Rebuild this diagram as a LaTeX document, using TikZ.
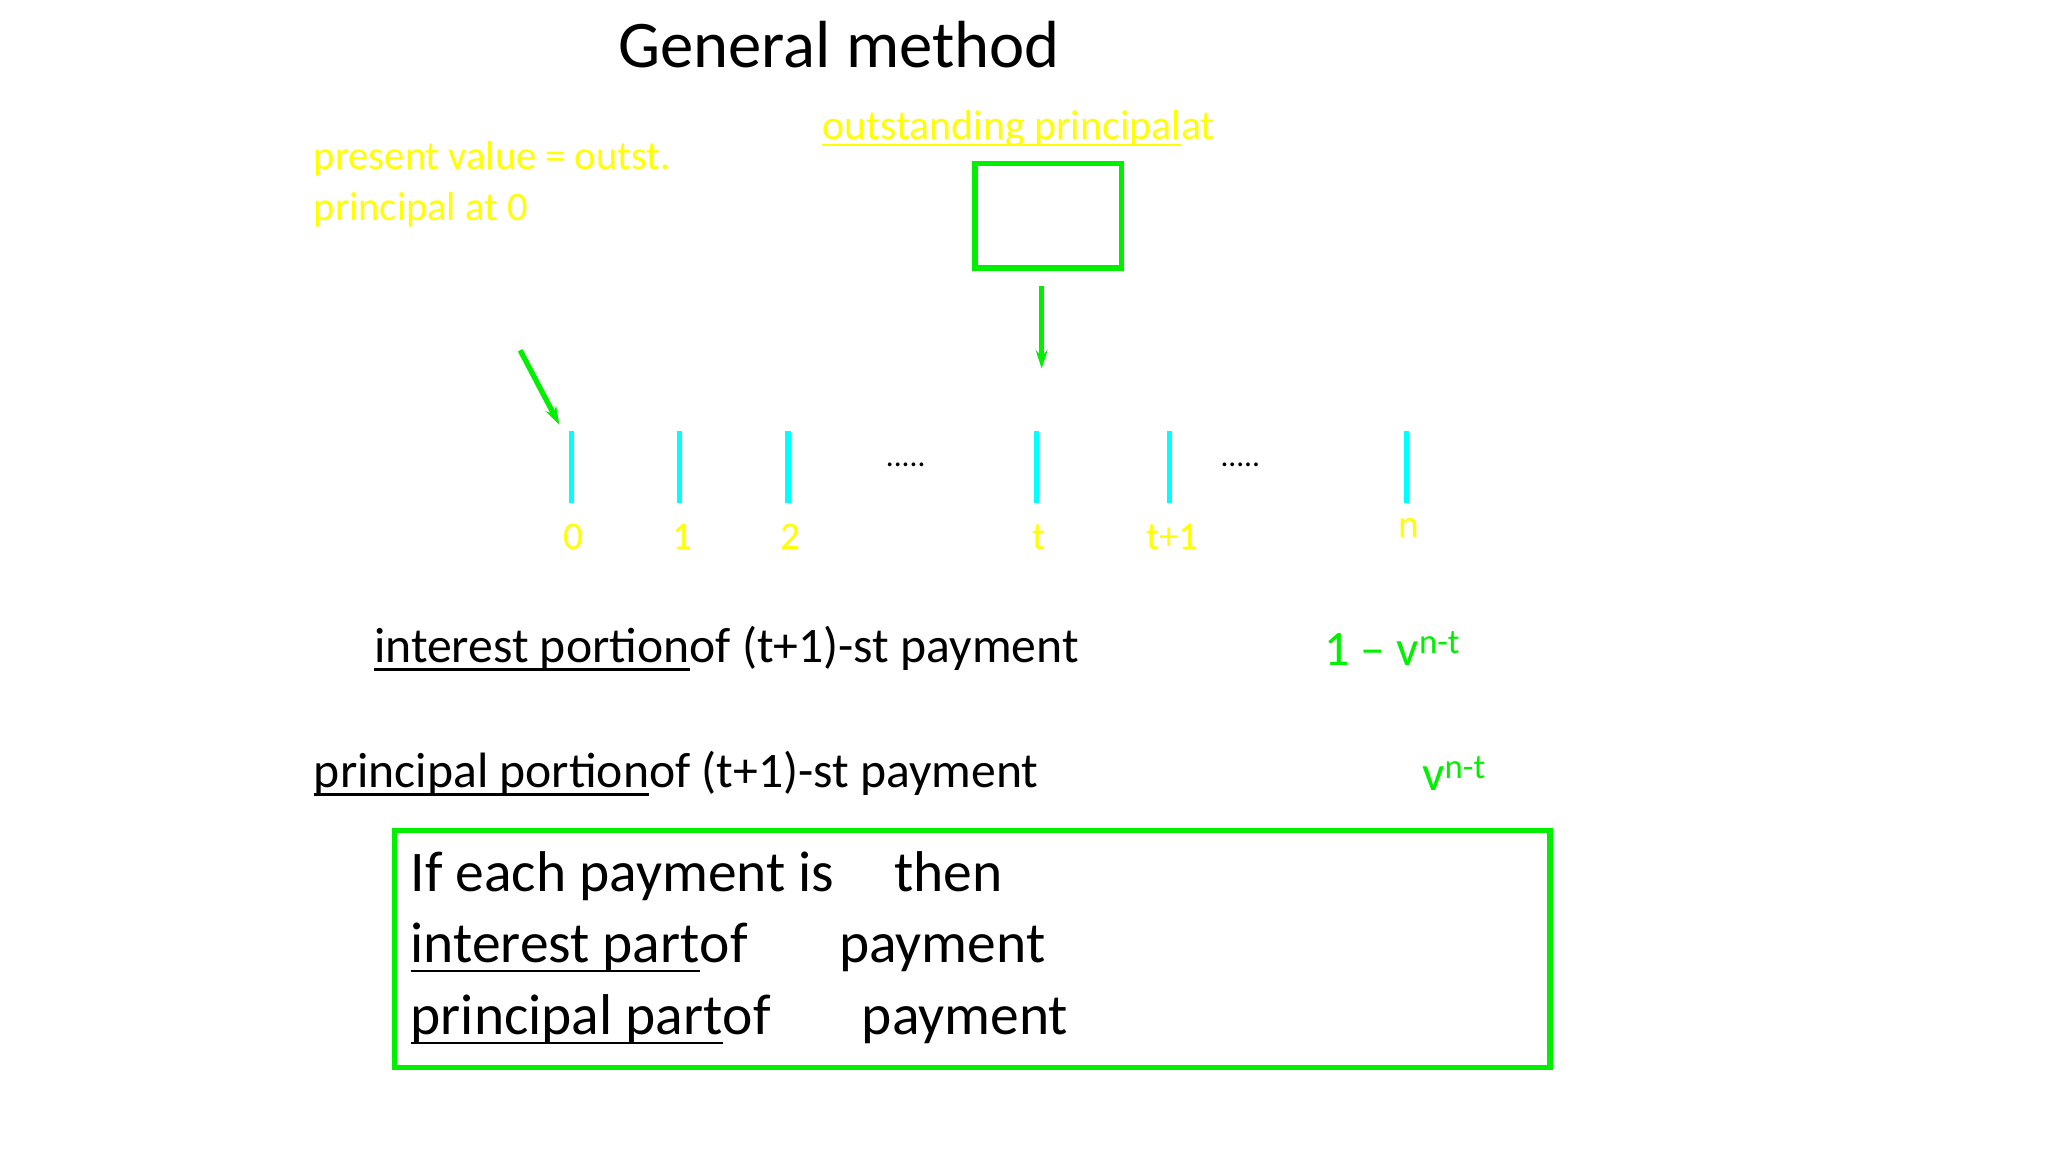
\documentclass[tikz,border=0pt]{standalone}
\usepackage{fontspec}
\setmainfont{Carlito}
\newcommand{\myul}[1]{\setbox0\hbox{#1}\rlap{\rule[-0.17em]{\wd0}{2pt}}\box0}
\usetikzlibrary{arrows.meta}
\definecolor{ylw}{RGB}{255,255,0}
\definecolor{grn}{RGB}{0,240,0}
\definecolor{cyn}{RGB}{0,255,255}
\tikzset{
 tick/.style={draw=cyn,line width=4pt},
 ylab/.style={text=ylw,font=\fontsize{30}{36}\selectfont,inner sep=0pt},
 blab/.style={font=\fontsize{38}{44}\selectfont,inner sep=0pt,anchor=west},
 bigt/.style={font=\fontsize{44}{52}\selectfont,inner sep=0pt,anchor=west},
 garrow/.style={draw=grn,line width=4pt,-{Stealth[length=14pt,width=9pt]}},
 gbox/.style={draw=grn,line width=4pt}
}
\begin{document}
\begin{tikzpicture}[x=1pt,y=-1pt]
\useasboundingbox (0,0) rectangle (1567,881);
\node[inner sep=0pt,font=\fontsize{51}{58}\selectfont] (title) at (642,34) {General method};
\node[ylab,anchor=west,font=\fontsize{32}{36}\selectfont] (ost) at (629,98) {\myul{outstanding principal} at};
\node[ylab,anchor=north west,align=left,font=\fontsize{31}{39}\selectfont] (pv) at (240,108) {present value = outst.\\principal at 0};
\node[gbox,minimum width=112pt,minimum height=80pt,inner sep=0pt] (tbox) at (802,165) {};
\foreach \x/\l/\n/\yl in {437/0/a/411,520/1/b/411,603/2/c/411,793/t/d/411,895/t+1/e/411,1076/n/f/404}{
  \coordinate (top\n) at (\x,330);
  \coordinate (bot\n) at (\x,385);
  \draw[tick] (top\n) -- (bot\n);
  \node[ylab] (lab\n) at (\x+2,\yl) {\l};
}
\node[inner sep=0pt,font=\fontsize{24}{28}\selectfont] (dots1) at (693,356) {.....};
\node[inner sep=0pt,font=\fontsize{24}{28}\selectfont] (dots2) at (949,356) {.....};
\coordinate (a0) at (398,268);
\coordinate (a1) at (428,325);
\draw[garrow] (a0) -- (a1);
\coordinate (b0) at (797,219);
\coordinate (b1) at (797,282);
\draw[garrow] (b0) -- (b1);
\node[blab] (ip) at (286,496) {\myul{interest portion} of (t+1)-st payment};
\node[blab,text=grn] (ipv) at (1013,496) {1 – v\textsuperscript{n-t}};
\node[blab] (pp) at (240,592) {\myul{principal portion} of (t+1)-st payment};
\node[blab,text=grn] (ppv) at (1088,592) {v\textsuperscript{n-t}};
\node[gbox,minimum width=884pt,minimum height=181pt,inner sep=0pt] (bigbox) at (744,726) {};
\node[bigt] (l1) at (314,670) {If each payment is \hspace{36pt}then};
\node[bigt] (l2) at (314,725) {\myul{interest part} of \hspace{60pt}payment};
\node[bigt] (l3) at (314,780) {\myul{principal part} of \hspace{60pt}payment};
\end{tikzpicture}
\end{document}
